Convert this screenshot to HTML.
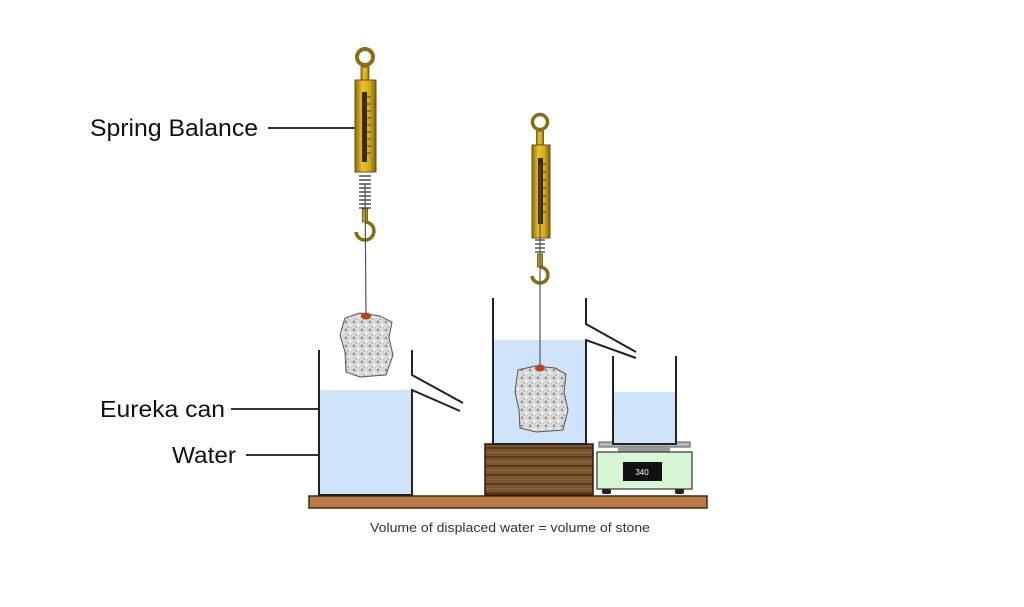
<!DOCTYPE html>
<html><head><style>
body{margin:0;background:#fff;width:1024px;height:602px;overflow:hidden}
</style></head><body>
<svg width="1024" height="602" viewBox="0 0 1024 602" xmlns="http://www.w3.org/2000/svg" font-family="Liberation Sans, sans-serif">
<defs>
<linearGradient id="gold" x1="0" x2="1">
<stop offset="0" stop-color="#8a6d10"/><stop offset="0.35" stop-color="#e8c22a"/><stop offset="0.7" stop-color="#d3a91c"/><stop offset="1" stop-color="#7d600c"/>
</linearGradient>
<pattern id="stone" width="8" height="8" patternUnits="userSpaceOnUse">
<rect width="8" height="8" fill="#d8d8d8"/><circle cx="2" cy="2" r="1.2" fill="#8a8a8a"/><circle cx="6" cy="5" r="1.2" fill="#f4f4f4"/><circle cx="4" cy="7" r="0.8" fill="#a0a0a0"/>
</pattern>
<pattern id="wood" width="20" height="9" patternUnits="userSpaceOnUse">
<rect width="20" height="9" fill="#7a5530"/><rect y="6" width="20" height="2" fill="#5a3a1c"/><rect y="2" width="20" height="1" fill="#8d6640"/>
</pattern>
</defs>

<!-- labels -->
<text x="90" y="136" font-size="24" fill="#111" textLength="168" lengthAdjust="spacingAndGlyphs">Spring Balance</text>
<line x1="268" y1="128" x2="356" y2="128" stroke="#333" stroke-width="2"/>
<text x="100" y="417" font-size="23" fill="#111" textLength="125" lengthAdjust="spacingAndGlyphs">Eureka can</text>
<line x1="231" y1="409" x2="319" y2="409" stroke="#333" stroke-width="2"/>
<text x="172" y="463" font-size="23" fill="#111" textLength="64" lengthAdjust="spacingAndGlyphs">Water</text>
<line x1="246" y1="455" x2="334" y2="455" stroke="#333" stroke-width="2"/>
<text x="510" y="532" font-size="13" fill="#333" text-anchor="middle" textLength="280" lengthAdjust="spacingAndGlyphs">Volume of displaced water = volume of stone</text>

<!-- base -->
<rect x="309" y="496" width="398" height="12" fill="#b97a45" stroke="#3a2a1a" stroke-width="1.5"/>

<!-- balance 1 -->
<g transform="translate(365,57)">
<circle r="8" fill="none" stroke="#8a6d10" stroke-width="4"/>
<rect x="-4" y="10" width="8" height="13" fill="url(#gold)" stroke="#6a520a" stroke-width="0.8"/>
<rect x="-10" y="23" width="21" height="92" fill="url(#gold)" stroke="#6a520a" stroke-width="1"/>
<rect x="-3" y="35" width="5" height="70" fill="#3a2a05"/>
<g stroke="#3a2a05" stroke-width="0.8"><line x1="2" y1="40" x2="6" y2="40"/><line x1="2" y1="47" x2="6" y2="47"/><line x1="2" y1="54" x2="6" y2="54"/><line x1="2" y1="61" x2="6" y2="61"/><line x1="2" y1="68" x2="6" y2="68"/><line x1="2" y1="75" x2="6" y2="75"/><line x1="2" y1="82" x2="6" y2="82"/><line x1="2" y1="89" x2="6" y2="89"/><line x1="2" y1="96" x2="6" y2="96"/></g>
<g stroke="#333" stroke-width="1.3"><line x1="-6" y1="119" x2="6" y2="119"/><line x1="-6" y1="123" x2="6" y2="123"/><line x1="-6" y1="127" x2="6" y2="127"/><line x1="-6" y1="131" x2="6" y2="131"/><line x1="-6" y1="135" x2="6" y2="135"/><line x1="-6" y1="139" x2="6" y2="139"/><line x1="-6" y1="143" x2="6" y2="143"/><line x1="-6" y1="147" x2="6" y2="147"/><line x1="-6" y1="151" x2="6" y2="151"/></g>
<rect x="-2.5" y="152" width="5" height="13" fill="url(#gold)" stroke="#6a520a" stroke-width="0.8"/>
<path d="M0 165 A9 9 0 1 1 -9 175" fill="none" stroke="#8a6d10" stroke-width="3.5"/>
</g>
<line x1="365" y1="184" x2="366" y2="315" stroke="#555" stroke-width="1.2"/>
<path d="M345 318 L360 313 L380 316 L392 322 L389 338 L393 355 L386 375 L360 377 L346 372 L345 352 L340 335 Z" fill="url(#stone)" stroke="#555" stroke-width="1"/>
<ellipse cx="366" cy="316" rx="5" ry="3.5" fill="#b4441a"/>

<!-- eureka can 1 -->
<rect x="320" y="390" width="92" height="105" fill="#cfe4fb"/>
<polyline points="319,350 319,495 412,495 412,390 460,411" fill="none" stroke="#222" stroke-width="2"/>
<polyline points="412,350 412,375 463,403" fill="none" stroke="#222" stroke-width="2"/>

<!-- wood block -->
<rect x="485" y="444" width="108" height="51" fill="url(#wood)" stroke="#2a1a0a" stroke-width="1.5"/>

<!-- eureka can 2 -->
<rect x="494" y="340" width="92" height="104" fill="#cfe4fb"/>
<polyline points="493,298 493,444 586,444 586,340 636,358" fill="none" stroke="#222" stroke-width="2"/>
<polyline points="586,298 586,324 636,352" fill="none" stroke="#222" stroke-width="2"/>

<!-- balance 2 -->
<g transform="translate(540,122)">
<circle r="7.5" fill="none" stroke="#8a6d10" stroke-width="3.5"/>
<rect x="-3.5" y="9" width="7" height="14" fill="url(#gold)" stroke="#6a520a" stroke-width="0.8"/>
<rect x="-8" y="23" width="18" height="93" fill="url(#gold)" stroke="#6a520a" stroke-width="1"/>
<rect x="-2" y="36" width="5" height="66" fill="#3a2a05"/>
<g stroke="#3a2a05" stroke-width="0.8"><line x1="3" y1="42" x2="6" y2="42"/><line x1="3" y1="50" x2="6" y2="50"/><line x1="3" y1="58" x2="6" y2="58"/><line x1="3" y1="66" x2="6" y2="66"/><line x1="3" y1="74" x2="6" y2="74"/><line x1="3" y1="82" x2="6" y2="82"/><line x1="3" y1="90" x2="6" y2="90"/></g>
<g stroke="#333" stroke-width="1.2"><line x1="-5" y1="118" x2="5" y2="118"/><line x1="-5" y1="122" x2="5" y2="122"/><line x1="-5" y1="126" x2="5" y2="126"/><line x1="-5" y1="130" x2="5" y2="130"/></g>
<rect x="-2.5" y="132" width="5" height="13" fill="url(#gold)" stroke="#6a520a" stroke-width="0.8"/>
<path d="M0 145 A8 8 0 1 1 -8 154" fill="none" stroke="#8a6d10" stroke-width="3.5"/>
</g>
<line x1="540" y1="164" x2="540" y2="367" stroke="#555" stroke-width="1.2"/>
<path d="M518 370 L535 366 L555 368 L566 374 L564 392 L568 410 L563 430 L536 432 L520 428 L519 410 L515 392 Z" fill="url(#stone)" stroke="#555" stroke-width="1"/>
<ellipse cx="540" cy="368" rx="5" ry="3.5" fill="#b4441a"/>

<!-- scale -->
<rect x="599" y="442" width="91" height="5" fill="#bbb" stroke="#555" stroke-width="1"/>
<rect x="618" y="447" width="52" height="5" fill="#999"/>
<rect x="597" y="452" width="95" height="37" fill="#d6f6d6" stroke="#333" stroke-width="1.2"/>
<rect x="623" y="462" width="39" height="19" fill="#111"/>
<text x="642" y="475" font-size="8" fill="#fff" text-anchor="middle">340</text>
<rect x="602" y="489" width="9" height="5" rx="2" fill="#222"/>
<rect x="675" y="489" width="9" height="5" rx="2" fill="#222"/>

<!-- small beaker -->
<rect x="614" y="392" width="62" height="52" fill="#cfe4fb"/>
<polyline points="613,356 613,444 676,444 676,356" fill="none" stroke="#222" stroke-width="2"/>
</svg>
</body></html>
